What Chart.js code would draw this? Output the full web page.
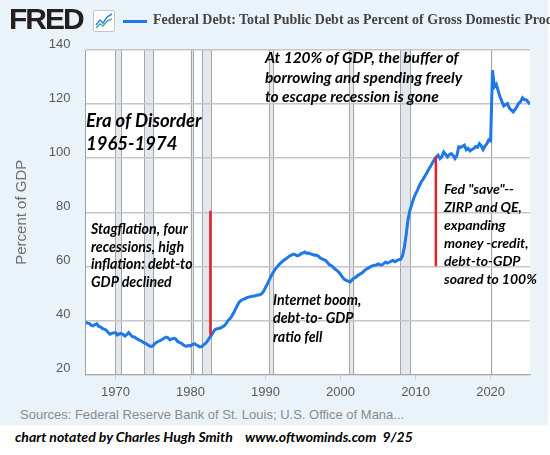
<!DOCTYPE html>
<html>
<head>
<meta charset="utf-8">
<script src="https://cdn.jsdelivr.net/npm/chart.js@4.4.0/dist/chart.umd.min.js"></script>
<style>
  body { margin: 0; background: #fff; width: 550px; height: 455px; overflow: hidden; position: relative; font-family: "Liberation Sans", Arial, sans-serif; }
  #frame { position: absolute; left: 0; top: 0; width: 548px; height: 425px; background: #eaf2fa; }
  #wrap { position: absolute; left: 0; top: 0; width: 548px; height: 405px; }
  .logo { position: absolute; left: 9px; top: 2px; font: bold 30px "Liberation Sans", Arial, sans-serif; letter-spacing: -2px; color: #231f20; }
  .icon { position: absolute; left: 93px; top: 10px; width: 20px; height: 20px; background: #fff; border: 1px solid #c8c8c8; border-radius: 2px; }
  .swatch { position: absolute; left: 123px; top: 20px; width: 24px; height: 3px; background: #1f78e6; }
  .title { position: absolute; left: 153px; top: 12px; width: 397px; overflow: hidden; white-space: nowrap; font: bold 14px "Liberation Serif", "Times New Roman", serif; color: #444; }
  .note { position: absolute; font-family: Lato, "Open Sans", sans-serif; font-weight: bold; font-style: italic; color: #000; white-space: nowrap; }
  .src { position: absolute; left: 20px; top: 407px; font-size: 13px; color: #8c8c8c; white-space: nowrap; }
  .foot { position: absolute; left: 15px; top: 428px; font: italic bold 14px Lato, sans-serif; color: #000; white-space: pre; }
</style>
</head>
<body>
<div id="frame"></div>
<div id="wrap"><canvas id="myChart"></canvas></div>

<div class="logo">FRED</div>
<div class="icon">
  <svg width="20" height="20" viewBox="0 0 20 20">
    <polyline points="2,14 6,9 9,12 13,6 18,3" fill="none" stroke="#3b82d6" stroke-width="1.5"/>
    <polyline points="2,17 6,13 9,15 13,10 18,8" fill="none" stroke="#3bb39a" stroke-width="1.5"/>
  </svg>
</div>
<div class="swatch"></div>
<div class="title">Federal Debt: Total Public Debt as Percent of Gross Domestic Product</div>

<div class="note" style="left:265px; top:48px; font-size:15.5px; line-height:19.5px;">At 120% of GDP, the buffer of<br>borrowing and spending freely<br>to escape recession is gone</div>
<div class="note" style="left:86px; top:109px; font-size:18.5px; line-height:22.6px;">Era of Disorder<br>1965-1974</div>
<div class="note" style="left:91px; top:220px; font-size:14.2px; line-height:17.7px;">Stagflation, four<br>recessions, high<br>inflation: debt-to<br>GDP declined</div>
<div class="note" style="left:273px; top:291px; font-size:14.2px; line-height:18.3px;">Internet boom,<br>debt-to- GDP<br>ratio fell</div>
<div class="note" style="left:444px; top:180px; font-size:14px; line-height:17.9px;">Fed "save"--<br>ZIRP and QE,<br>expanding<br>money -credit,<br>debt-to-GDP<br>soared to 100%</div>

<div class="src">Sources: Federal Reserve Bank of St. Louis; U.S. Office of Mana...</div>
<div class="foot">chart notated by Charles Hugh Smith    www.oftwominds.com  9/25</div>

<script>
// quarterly, starting 1966 Q1
const startYear = 1966;
const debtPct = [
  39.4, 39.0, 38.9, 38.2,   // 1966
  38.0, 38.4, 38.8, 37.8,   // 1967
  37.6, 37.0, 36.8, 36.4,   // 1968
  35.6, 34.9, 35.2, 35.4,   // 1969
  35.5, 34.6, 35.0, 35.2,   // 1970
  34.8, 34.2, 34.7, 35.5,   // 1971
  34.7, 34.0, 33.9, 33.4,   // 1972
  33.0, 32.6, 32.3, 31.8,   // 1973
  31.5, 31.1, 30.6, 30.4,   // 1974
  30.6, 31.5, 31.9, 32.3,   // 1975
  32.6, 33.0, 33.5, 33.8,   // 1976
  33.6, 32.8, 33.2, 33.4,   // 1977
  33.2, 32.3, 31.9, 31.6,   // 1978
  31.0, 30.6, 30.5, 30.7,   // 1979
  30.6, 31.1, 31.4, 31.0,   // 1980
  30.6, 30.2, 30.3, 31.0,   // 1981
  31.5, 32.3, 33.5, 34.4,   // 1982
  35.6, 36.6, 36.9, 37.0,   // 1983
  37.2, 37.6, 38.0, 38.8,   // 1984
  40.0, 40.6, 41.6, 42.8,   // 1985
  44.2, 45.6, 46.8, 47.4,   // 1986
  47.8, 48.0, 48.4, 48.6,   // 1987
  48.8, 48.9, 49.0, 49.2,   // 1988
  49.4, 49.5, 49.9, 50.8,   // 1989
  52.2, 53.5, 55.0, 56.4,   // 1990
  57.6, 58.8, 59.6, 60.5,   // 1991
  61.2, 61.8, 62.4, 62.8,   // 1992
  63.4, 63.9, 64.2, 64.5,   // 1993
  64.2, 63.9, 64.1, 64.7,   // 1994
  65.0, 65.3, 64.8, 64.9,   // 1995
  64.6, 64.4, 64.1, 64.2,   // 1996
  63.8, 63.2, 62.8, 62.5,   // 1997
  62.2, 61.4, 60.6, 60.3,   // 1998
  59.7, 59.0, 58.5, 57.9,   // 1999
  57.0, 56.0, 55.2, 54.8,   // 2000
  54.5, 54.2, 54.9, 55.6,   // 2001
  55.9, 56.5, 57.0, 57.4,   // 2002
  57.9, 58.6, 59.1, 59.4,   // 2003
  59.9, 60.2, 60.4, 60.5,   // 2004
  60.9, 60.6, 60.5, 61.0,   // 2005
  61.6, 61.2, 61.5, 61.9,   // 2006
  62.2, 61.7, 62.1, 62.5,   // 2007
  62.6, 63.8, 67.0, 71.8,   // 2008
  77.5, 80.8, 83.0, 85.2,   // 2009
  86.8, 88.2, 89.8, 91.2,   // 2010
  92.2, 93.4, 94.6, 95.9,   // 2011
  97.0, 98.3, 99.5, 100.4,  // 2012
  101.1, 99.9, 100.6, 102.3, // 2013
  101.4, 100.5, 101.3, 101.7, // 2014
  101.0, 99.9, 100.9, 104.2, // 2015
  104.0, 104.4, 104.8, 103.1, // 2016
  103.6, 102.7, 103.2, 103.6, // 2017
  104.3, 104.0, 105.4, 104.6, // 2018
  103.2, 104.5, 105.4, 106.7, // 2019
  106.4, 132.5, 126.4, 127.3, // 2020
  125.0, 122.7, 121.0, 119.3, // 2021
  119.8, 120.2, 118.5, 117.8, // 2022
  117.1, 118.0, 119.0, 120.3, // 2023
  120.9, 122.3, 121.6, 121.6, // 2024
  120.8, 119.9              // 2025
];

const yearTicks = [1970, 1980, 1990, 2000, 2010, 2020];
const pctTicks = [20, 40, 60, 80, 100, 120, 140];

// NBER recessions, in years
const recStart = [1969.92, 1973.84, 1980.0, 1981.5, 1990.5, 2001.17, 2007.92, 2020.08];
const recEnd   = [1970.84, 1975.17, 1980.5, 1982.84, 1991.17, 2001.84, 2009.42, 2020.25];

// red marker lines: year, top, bottom
const markYear = [1982.65, 2012.7];
const markTop = [80.6, 100.6];
const markBottom = [34.5, 60.0];

var points = [];
for (var i = 0; i < debtPct.length; i++) {
  points.push({ x: startYear + i * 0.25, y: debtPct[i] });
}

var marks = markYear.map(function (yr, i) {
  return {
    data: [{ x: yr, y: markTop[i] }, { x: yr, y: markBottom[i] }],
    borderColor: '#e8202a',
    borderWidth: 2.5,
    pointRadius: 0,
    order: 0
  };
});

const recessionBars = {
  id: 'recessionBars',
  beforeDraw: function (chart) {
    var ctx = chart.ctx, a = chart.chartArea, xs = chart.scales.x;
    ctx.save();
    ctx.fillStyle = '#ffffff';
    ctx.fillRect(a.left, a.top, a.right - a.left, a.bottom - a.top);
    for (var i = 0; i < recStart.length; i++) {
      var x0 = xs.getPixelForValue(recStart[i]);
      var x1 = xs.getPixelForValue(recEnd[i]);
      ctx.fillStyle = '#e3e8ee';
      ctx.fillRect(x0, a.top, x1 - x0, a.bottom - a.top);
      ctx.strokeStyle = '#a6a6a6';
      ctx.lineWidth = 1;
      ctx.beginPath();
      ctx.moveTo(Math.round(x0) + 0.5, a.top);
      ctx.lineTo(Math.round(x0) + 0.5, a.bottom);
      ctx.moveTo(Math.round(x1) - 0.5, a.top);
      ctx.lineTo(Math.round(x1) - 0.5, a.bottom);
      ctx.stroke();
    }
    ctx.restore();
  }
};

const config = {
  type: 'line',
  data: {
    datasets: [{
      label: 'Federal Debt: Total Public Debt as Percent of Gross Domestic Product',
      data: points,
      borderColor: '#1f78e6',
      borderWidth: 3,
      pointRadius: 0,
      tension: 0,
      order: 1
    }].concat(marks)
  },
  options: {
    responsive: true,
    maintainAspectRatio: false,
    animation: false,
    layout: { padding: { top: 50, right: 18, left: 0, bottom: 0 } },
    plugins: { legend: { display: false }, tooltip: { enabled: false } },
    scales: {
      x: {
        type: 'linear',
        min: 1966,
        max: 2025.25,
        afterBuildTicks: function (s) { s.ticks = yearTicks.map(function (v) { return { value: v }; }); },
        afterFit: function (s) { s.height = 30.5; },
        ticks: {
          padding: 5,
          color: '#595959',
          font: { family: 'Liberation Sans', size: 13 },
          callback: function (v) { return String(v); }
        },
        grid: { drawOnChartArea: false, tickLength: 5, color: '#cfcfcf' },
        border: { color: '#a8a8a8' }
      },
      y: {
        min: 20,
        max: 140,
        afterBuildTicks: function (s) { s.ticks = pctTicks.map(function (v) { return { value: v }; }); },
        afterFit: function (s) { s.width = 85.5; },
        ticks: {
          padding: 15,
          labelOffset: -6,
          color: '#595959',
          font: { family: 'Liberation Sans', size: 13 }
        },
        grid: { color: '#c6c6c6', lineWidth: 1.5, drawTicks: false },
        border: { color: '#a0a0a0' },
        title: {
          display: true,
          text: 'Percent of GDP',
          color: '#6f6f6f',
          font: { family: 'Liberation Sans', size: 15 },
          padding: { top: 13, bottom: 0 }
        }
      }
    }
  },
  plugins: [recessionBars]
};

var myChart = new Chart(document.getElementById('myChart'), config);
</script>
</body>
</html>
